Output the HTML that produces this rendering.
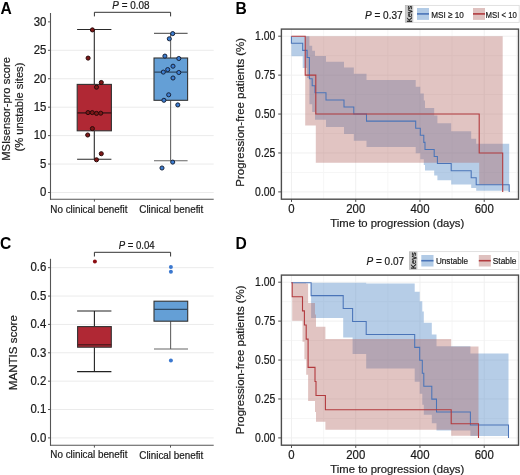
<!DOCTYPE html>
<html><head><meta charset="utf-8"><style>html,body{margin:0;padding:0;background:#fff;width:520px;height:475px;overflow:hidden}</style></head>
<body>
<svg width="520" height="475" viewBox="0 0 520 475" style="font-family:'Liberation Sans',sans-serif;display:block;will-change:transform">
<rect width="520" height="475" fill="#fff"/>
<line x1="51" y1="192.50" x2="213.7" y2="192.50" stroke="#ebebeb" stroke-width="1"/>
<line x1="51" y1="164.06" x2="213.7" y2="164.06" stroke="#ebebeb" stroke-width="1"/>
<line x1="51" y1="135.62" x2="213.7" y2="135.62" stroke="#ebebeb" stroke-width="1"/>
<line x1="51" y1="107.18" x2="213.7" y2="107.18" stroke="#ebebeb" stroke-width="1"/>
<line x1="51" y1="78.74" x2="213.7" y2="78.74" stroke="#ebebeb" stroke-width="1"/>
<line x1="51" y1="50.30" x2="213.7" y2="50.30" stroke="#ebebeb" stroke-width="1"/>
<line x1="50.5" y1="13" x2="50.5" y2="199.7" stroke="#555555" stroke-width="1.1"/>
<line x1="50" y1="199.2" x2="213.7" y2="199.2" stroke="#555555" stroke-width="1.1"/>
<line x1="48" y1="192.50" x2="50.5" y2="192.50" stroke="#555555" stroke-width="1"/>
<text transform="translate(46.30,196.30) scale(1.0,1.07)" font-size="11.4" text-anchor="end" fill="#1a1a1a" stroke="#1a1a1a" stroke-width="0.2">0</text>
<line x1="48" y1="164.06" x2="50.5" y2="164.06" stroke="#555555" stroke-width="1"/>
<text transform="translate(46.30,167.86) scale(1.0,1.07)" font-size="11.4" text-anchor="end" fill="#1a1a1a" stroke="#1a1a1a" stroke-width="0.2">5</text>
<line x1="48" y1="135.62" x2="50.5" y2="135.62" stroke="#555555" stroke-width="1"/>
<text transform="translate(46.30,139.42) scale(1.0,1.07)" font-size="11.4" text-anchor="end" fill="#1a1a1a" stroke="#1a1a1a" stroke-width="0.2">10</text>
<line x1="48" y1="107.18" x2="50.5" y2="107.18" stroke="#555555" stroke-width="1"/>
<text transform="translate(46.30,110.98) scale(1.0,1.07)" font-size="11.4" text-anchor="end" fill="#1a1a1a" stroke="#1a1a1a" stroke-width="0.2">15</text>
<line x1="48" y1="78.74" x2="50.5" y2="78.74" stroke="#555555" stroke-width="1"/>
<text transform="translate(46.30,82.54) scale(1.0,1.07)" font-size="11.4" text-anchor="end" fill="#1a1a1a" stroke="#1a1a1a" stroke-width="0.2">20</text>
<line x1="48" y1="50.30" x2="50.5" y2="50.30" stroke="#555555" stroke-width="1"/>
<text transform="translate(46.30,54.10) scale(1.0,1.07)" font-size="11.4" text-anchor="end" fill="#1a1a1a" stroke="#1a1a1a" stroke-width="0.2">25</text>
<line x1="48" y1="21.86" x2="50.5" y2="21.86" stroke="#555555" stroke-width="1"/>
<text transform="translate(46.30,25.66) scale(1.0,1.07)" font-size="11.4" text-anchor="end" fill="#1a1a1a" stroke="#1a1a1a" stroke-width="0.2">30</text>
<line x1="94.4" y1="199.2" x2="94.4" y2="201.6" stroke="#555555" stroke-width="1"/>
<line x1="170.5" y1="199.2" x2="170.5" y2="201.6" stroke="#555555" stroke-width="1"/>
<text transform="translate(88.90,212.70) scale(1.0,1.07)" font-size="9.85" text-anchor="middle" fill="#1a1a1a" stroke="#1a1a1a" stroke-width="0.2">No clinical benefit</text>
<text transform="translate(171.30,213.30) scale(1.0,1.07)" font-size="9.85" text-anchor="middle" fill="#1a1a1a" stroke="#1a1a1a" stroke-width="0.2">Clinical benefit</text>
<text transform="translate(10.20,108.90) rotate(-90) scale(1.0,1.04)" font-size="11.2" text-anchor="middle" fill="#1a1a1a" stroke="#1a1a1a" stroke-width="0.2">MSIsensor-pro score</text>
<text transform="translate(22.90,107.00) rotate(-90) scale(1.0,1.04)" font-size="11.2" text-anchor="middle" fill="#1a1a1a" stroke="#1a1a1a" stroke-width="0.2">(% unstable sites)</text>
<text transform="translate(0.40,13.50) scale(0.92,1)" font-size="17" font-weight="bold" fill="#000">A</text>
<path d="M94.4,16.4V12.3H170.6V16.4" fill="none" stroke="#333" stroke-width="1"/>
<text transform="translate(130.90,8.60) scale(1.0,1.07)" font-size="9.9" text-anchor="middle" fill="#1a1a1a" stroke="#1a1a1a" stroke-width="0.2"><tspan font-style="italic">P</tspan> = 0.08</text>
<path d="M94.3,29.5V84.4M94.3,130.8V159.3M77.1,29.5H111.4M77.1,159.3H111.4" stroke="#2a2a2a" stroke-width="1.1" fill="none"/>
<rect x="77.2" y="84.4" width="34.2" height="46.4" fill="#b02834" stroke="#333" stroke-width="1.1"/>
<line x1="77.2" y1="112.9" x2="111.4" y2="112.9" stroke="#55181d" stroke-width="1.7"/>
<path d="M170.6,33.4V58M170.6,100.3V160.8M154,33.4H187.6M154,160.8H187.6" stroke="#666" stroke-width="1.1" fill="none"/>
<rect x="154" y="58" width="33.6" height="42.3" fill="#649fd6" stroke="#333" stroke-width="1.1"/>
<line x1="154" y1="72.1" x2="187.6" y2="72.1" stroke="#2e4a66" stroke-width="1.4"/>
<circle cx="92.4" cy="29.9" r="2.05" fill="#7e1717" stroke="#2a0a0a" stroke-width="1"/>
<circle cx="88.1" cy="58.1" r="2.05" fill="#7e1717" stroke="#2a0a0a" stroke-width="1"/>
<circle cx="101.3" cy="82.5" r="2.05" fill="#7e1717" stroke="#2a0a0a" stroke-width="1"/>
<circle cx="96.5" cy="87.2" r="2.05" fill="#7e1717" stroke="#2a0a0a" stroke-width="1"/>
<circle cx="88" cy="112.6" r="2.05" fill="#7e1717" stroke="#2a0a0a" stroke-width="1"/>
<circle cx="92.25" cy="112.6" r="2.05" fill="#7e1717" stroke="#2a0a0a" stroke-width="1"/>
<circle cx="96.5" cy="113.4" r="2.05" fill="#7e1717" stroke="#2a0a0a" stroke-width="1"/>
<circle cx="100.75" cy="113.2" r="2.05" fill="#7e1717" stroke="#2a0a0a" stroke-width="1"/>
<circle cx="92.4" cy="128.6" r="2.05" fill="#7e1717" stroke="#2a0a0a" stroke-width="1"/>
<circle cx="87.7" cy="135" r="2.05" fill="#7e1717" stroke="#2a0a0a" stroke-width="1"/>
<circle cx="101.3" cy="153.7" r="2.05" fill="#7e1717" stroke="#2a0a0a" stroke-width="1"/>
<circle cx="96.5" cy="159.8" r="2.05" fill="#7e1717" stroke="#2a0a0a" stroke-width="1"/>
<circle cx="172.7" cy="33.6" r="2.05" fill="#3d7ed3" stroke="#17233a" stroke-width="1"/>
<circle cx="169.3" cy="38.8" r="2.05" fill="#3d7ed3" stroke="#17233a" stroke-width="1"/>
<circle cx="164.9" cy="56.1" r="2.05" fill="#3d7ed3" stroke="#17233a" stroke-width="1"/>
<circle cx="178.8" cy="58.5" r="2.05" fill="#3d7ed3" stroke="#17233a" stroke-width="1"/>
<circle cx="173" cy="66.2" r="2.05" fill="#3d7ed3" stroke="#17233a" stroke-width="1"/>
<circle cx="167.7" cy="69.6" r="2.05" fill="#3d7ed3" stroke="#17233a" stroke-width="1"/>
<circle cx="163.3" cy="72.1" r="2.05" fill="#3d7ed3" stroke="#17233a" stroke-width="1"/>
<circle cx="178.8" cy="72.5" r="2.05" fill="#3d7ed3" stroke="#17233a" stroke-width="1"/>
<circle cx="173" cy="78" r="2.05" fill="#3d7ed3" stroke="#17233a" stroke-width="1"/>
<circle cx="168.7" cy="94.8" r="2.05" fill="#3d7ed3" stroke="#17233a" stroke-width="1"/>
<circle cx="163.9" cy="100.3" r="2.05" fill="#3d7ed3" stroke="#17233a" stroke-width="1"/>
<circle cx="177.8" cy="104.9" r="2.05" fill="#3d7ed3" stroke="#17233a" stroke-width="1"/>
<circle cx="172.7" cy="162.1" r="2.05" fill="#3d7ed3" stroke="#17233a" stroke-width="1"/>
<circle cx="162" cy="168" r="2.05" fill="#3d7ed3" stroke="#17233a" stroke-width="1"/>
<line x1="51" y1="437.90" x2="213.7" y2="437.90" stroke="#ebebeb" stroke-width="1"/>
<line x1="51" y1="409.53" x2="213.7" y2="409.53" stroke="#ebebeb" stroke-width="1"/>
<line x1="51" y1="381.16" x2="213.7" y2="381.16" stroke="#ebebeb" stroke-width="1"/>
<line x1="51" y1="352.79" x2="213.7" y2="352.79" stroke="#ebebeb" stroke-width="1"/>
<line x1="51" y1="324.42" x2="213.7" y2="324.42" stroke="#ebebeb" stroke-width="1"/>
<line x1="51" y1="296.05" x2="213.7" y2="296.05" stroke="#ebebeb" stroke-width="1"/>
<line x1="51" y1="267.68" x2="213.7" y2="267.68" stroke="#ebebeb" stroke-width="1"/>
<line x1="50.5" y1="258.8" x2="50.5" y2="445.7" stroke="#555555" stroke-width="1.1"/>
<line x1="50" y1="445.2" x2="213.7" y2="445.2" stroke="#555555" stroke-width="1.1"/>
<line x1="48" y1="437.90" x2="50.5" y2="437.90" stroke="#555555" stroke-width="1"/>
<text transform="translate(46.30,441.70) scale(1.0,1.07)" font-size="11.4" text-anchor="end" fill="#1a1a1a" stroke="#1a1a1a" stroke-width="0.2">0.0</text>
<line x1="48" y1="409.53" x2="50.5" y2="409.53" stroke="#555555" stroke-width="1"/>
<text transform="translate(46.30,413.33) scale(1.0,1.07)" font-size="11.4" text-anchor="end" fill="#1a1a1a" stroke="#1a1a1a" stroke-width="0.2">0.1</text>
<line x1="48" y1="381.16" x2="50.5" y2="381.16" stroke="#555555" stroke-width="1"/>
<text transform="translate(46.30,384.96) scale(1.0,1.07)" font-size="11.4" text-anchor="end" fill="#1a1a1a" stroke="#1a1a1a" stroke-width="0.2">0.2</text>
<line x1="48" y1="352.79" x2="50.5" y2="352.79" stroke="#555555" stroke-width="1"/>
<text transform="translate(46.30,356.59) scale(1.0,1.07)" font-size="11.4" text-anchor="end" fill="#1a1a1a" stroke="#1a1a1a" stroke-width="0.2">0.3</text>
<line x1="48" y1="324.42" x2="50.5" y2="324.42" stroke="#555555" stroke-width="1"/>
<text transform="translate(46.30,328.22) scale(1.0,1.07)" font-size="11.4" text-anchor="end" fill="#1a1a1a" stroke="#1a1a1a" stroke-width="0.2">0.4</text>
<line x1="48" y1="296.05" x2="50.5" y2="296.05" stroke="#555555" stroke-width="1"/>
<text transform="translate(46.30,299.85) scale(1.0,1.07)" font-size="11.4" text-anchor="end" fill="#1a1a1a" stroke="#1a1a1a" stroke-width="0.2">0.5</text>
<line x1="48" y1="267.68" x2="50.5" y2="267.68" stroke="#555555" stroke-width="1"/>
<text transform="translate(46.30,271.48) scale(1.0,1.07)" font-size="11.4" text-anchor="end" fill="#1a1a1a" stroke="#1a1a1a" stroke-width="0.2">0.6</text>
<line x1="94.4" y1="445.2" x2="94.4" y2="447.6" stroke="#555555" stroke-width="1"/>
<line x1="170.5" y1="445.2" x2="170.5" y2="447.6" stroke="#555555" stroke-width="1"/>
<text transform="translate(88.90,457.90) scale(1.0,1.07)" font-size="9.85" text-anchor="middle" fill="#1a1a1a" stroke="#1a1a1a" stroke-width="0.2">No clinical benefit</text>
<text transform="translate(171.30,458.50) scale(1.0,1.07)" font-size="9.85" text-anchor="middle" fill="#1a1a1a" stroke="#1a1a1a" stroke-width="0.2">Clinical benefit</text>
<text transform="translate(17.10,352.65) rotate(-90) scale(1.0,1.02)" font-size="11.55" text-anchor="middle" fill="#1a1a1a" stroke="#1a1a1a" stroke-width="0.2">MANTIS score</text>
<text transform="translate(0.10,249.20) scale(0.92,1)" font-size="17" font-weight="bold" fill="#000">C</text>
<path d="M94.4,256.5V252.3H170.6V256.5" fill="none" stroke="#333" stroke-width="1"/>
<text transform="translate(136.70,248.50) scale(1.0,1.07)" font-size="9.6" text-anchor="middle" fill="#1a1a1a" stroke="#1a1a1a" stroke-width="0.2"><tspan font-style="italic">P</tspan> = 0.04</text>
<path d="M94.4,311V326.6M94.4,347.2V371.6M77.1,311H111.4M77.1,371.6H111.4" stroke="#222" stroke-width="1.1" fill="none"/>
<rect x="77.6" y="326.6" width="33.7" height="20.6" fill="#b02834" stroke="#333" stroke-width="1.1"/>
<line x1="77.6" y1="344.7" x2="111.3" y2="344.7" stroke="#5a1a1f" stroke-width="1.4"/>
<path d="M170.6,321.2V349M154,349H188" stroke="#666" stroke-width="1.1" fill="none"/>
<rect x="154" y="301.2" width="33.7" height="20" fill="#649fd6" stroke="#333" stroke-width="1.1"/>
<line x1="154" y1="309.4" x2="187.7" y2="309.4" stroke="#2e4a66" stroke-width="1.4"/>
<circle cx="94.9" cy="261.6" r="2" fill="#8b0d12"/>
<circle cx="170.9" cy="267" r="2" fill="#3b78cf"/>
<circle cx="170.9" cy="271.7" r="2" fill="#3b78cf"/>
<circle cx="170.9" cy="360.5" r="2" fill="#3b78cf"/>
<line x1="282" y1="172.44" x2="518" y2="172.44" stroke="#f6f6f6" stroke-width="1"/>
<line x1="282" y1="133.51" x2="518" y2="133.51" stroke="#f6f6f6" stroke-width="1"/>
<line x1="282" y1="94.59" x2="518" y2="94.59" stroke="#f6f6f6" stroke-width="1"/>
<line x1="282" y1="55.66" x2="518" y2="55.66" stroke="#f6f6f6" stroke-width="1"/>
<line x1="323.62" y1="29.1" x2="323.62" y2="199.2" stroke="#f6f6f6" stroke-width="1"/>
<line x1="387.86" y1="29.1" x2="387.86" y2="199.2" stroke="#f6f6f6" stroke-width="1"/>
<line x1="452.10" y1="29.1" x2="452.10" y2="199.2" stroke="#f6f6f6" stroke-width="1"/>
<line x1="516.34" y1="29.1" x2="516.34" y2="199.2" stroke="#f6f6f6" stroke-width="1"/>
<line x1="282" y1="191.90" x2="518" y2="191.90" stroke="#f0f0f0" stroke-width="1"/>
<line x1="282" y1="152.98" x2="518" y2="152.98" stroke="#f0f0f0" stroke-width="1"/>
<line x1="282" y1="114.05" x2="518" y2="114.05" stroke="#f0f0f0" stroke-width="1"/>
<line x1="282" y1="75.13" x2="518" y2="75.13" stroke="#f0f0f0" stroke-width="1"/>
<line x1="282" y1="36.20" x2="518" y2="36.20" stroke="#f0f0f0" stroke-width="1"/>
<line x1="291.50" y1="29.1" x2="291.50" y2="199.2" stroke="#f0f0f0" stroke-width="1"/>
<line x1="355.74" y1="29.1" x2="355.74" y2="199.2" stroke="#f0f0f0" stroke-width="1"/>
<line x1="419.98" y1="29.1" x2="419.98" y2="199.2" stroke="#f0f0f0" stroke-width="1"/>
<line x1="484.22" y1="29.1" x2="484.22" y2="199.2" stroke="#f0f0f0" stroke-width="1"/>
<path d="M291.4,36.20H302.7V56.23H291.4ZM302.7,36.20H307.1V67.88H302.7ZM307.1,36.20H309.4V78.00H307.1ZM309.4,45.64H312.2V104.23H309.4ZM312.2,50.67H315V112.10H312.2ZM315,56.01H326V119.65H315ZM326,61.64H344V126.92H326ZM344,67.53H353.8V133.91H344ZM353.8,73.67H366.5V140.64H353.8ZM366.5,80.04H415.7V147.12H366.5ZM415.7,86.65H420.3V153.35H415.7ZM420.3,93.49H423.8V159.33H420.3ZM423.8,100.57H425V165.03H423.8ZM425,107.88H434.2V170.44H425ZM434.2,115.43H437.4V175.52H434.2ZM437.4,123.21H451.2V180.23H437.4ZM451.2,131.13H471.2V184.48H451.2ZM471.2,138.84H476.2V188.12H471.2ZM476.2,143.87H509.2V190.86H476.2Z" fill="#558cc8" fill-opacity="0.43"/>
<path d="M305.2,36.20H315.8V125.58H305.2ZM315.8,36.20H479.2V162.68H315.8ZM479.2,36.20H502.7V184.77H479.2Z" fill="#b0645f" fill-opacity="0.38"/>
<path d="M291.4,36.20 H291.4 V43.28 H302.7 V50.35 H307.1 V57.43 H309.4 V78.66 H312.2 V85.74 H315 V92.82 H326 V99.90 H344 V106.97 H353.8 V114.05 H366.5 V121.13 H415.7 V128.20 H420.3 V135.28 H423.8 V142.36 H425 V149.44 H434.2 V156.51 H437.4 V163.59 H451.2 V170.67 H471.2 V177.75 H476.2 V184.82 H509.2 V191.90" fill="none" stroke="#4a74b8" stroke-width="1.05"/>
<path d="M291.4,36.20 H305.2 V75.13 H315.8 V114.05 H479.2 V152.98 H502.7 V191.90" fill="none" stroke="#b23a3e" stroke-width="1.1"/>
<rect x="281.4" y="29.1" width="237.1" height="170.1" fill="none" stroke="#4d4d4d" stroke-width="1.4"/>
<line x1="278.2" y1="191.90" x2="281" y2="191.90" stroke="#4d4d4d" stroke-width="1"/>
<text transform="translate(275.30,195.80) scale(1.0,1.07)" font-size="11.1" text-anchor="end" textLength="20.2" lengthAdjust="spacingAndGlyphs" fill="#1a1a1a" stroke="#1a1a1a" stroke-width="0.2">0.00</text>
<line x1="278.2" y1="152.98" x2="281" y2="152.98" stroke="#4d4d4d" stroke-width="1"/>
<text transform="translate(275.30,156.88) scale(1.0,1.07)" font-size="11.1" text-anchor="end" textLength="20.2" lengthAdjust="spacingAndGlyphs" fill="#1a1a1a" stroke="#1a1a1a" stroke-width="0.2">0.25</text>
<line x1="278.2" y1="114.05" x2="281" y2="114.05" stroke="#4d4d4d" stroke-width="1"/>
<text transform="translate(275.30,117.95) scale(1.0,1.07)" font-size="11.1" text-anchor="end" textLength="20.2" lengthAdjust="spacingAndGlyphs" fill="#1a1a1a" stroke="#1a1a1a" stroke-width="0.2">0.50</text>
<line x1="278.2" y1="75.13" x2="281" y2="75.13" stroke="#4d4d4d" stroke-width="1"/>
<text transform="translate(275.30,79.03) scale(1.0,1.07)" font-size="11.1" text-anchor="end" textLength="20.2" lengthAdjust="spacingAndGlyphs" fill="#1a1a1a" stroke="#1a1a1a" stroke-width="0.2">0.75</text>
<line x1="278.2" y1="36.20" x2="281" y2="36.20" stroke="#4d4d4d" stroke-width="1"/>
<text transform="translate(275.30,40.10) scale(1.0,1.07)" font-size="11.1" text-anchor="end" textLength="20.2" lengthAdjust="spacingAndGlyphs" fill="#1a1a1a" stroke="#1a1a1a" stroke-width="0.2">1.00</text>
<line x1="291.50" y1="199.2" x2="291.50" y2="201.9" stroke="#4d4d4d" stroke-width="1"/>
<text transform="translate(291.50,212.70) scale(1.0,1.07)" font-size="11.4" text-anchor="middle" fill="#1a1a1a" stroke="#1a1a1a" stroke-width="0.2">0</text>
<line x1="355.74" y1="199.2" x2="355.74" y2="201.9" stroke="#4d4d4d" stroke-width="1"/>
<text transform="translate(355.74,212.70) scale(1.0,1.07)" font-size="11.4" text-anchor="middle" fill="#1a1a1a" stroke="#1a1a1a" stroke-width="0.2">200</text>
<line x1="419.98" y1="199.2" x2="419.98" y2="201.9" stroke="#4d4d4d" stroke-width="1"/>
<text transform="translate(419.98,212.70) scale(1.0,1.07)" font-size="11.4" text-anchor="middle" fill="#1a1a1a" stroke="#1a1a1a" stroke-width="0.2">400</text>
<line x1="484.22" y1="199.2" x2="484.22" y2="201.9" stroke="#4d4d4d" stroke-width="1"/>
<text transform="translate(484.22,212.70) scale(1.0,1.07)" font-size="11.4" text-anchor="middle" fill="#1a1a1a" stroke="#1a1a1a" stroke-width="0.2">600</text>
<text transform="translate(397.30,226.70) scale(1.0,1.02)" font-size="11.3" text-anchor="middle" fill="#1a1a1a" stroke="#1a1a1a" stroke-width="0.2">Time to progression (days)</text>
<text transform="translate(244.20,112.30) rotate(-90) scale(1.0,1.02)" font-size="11.45" text-anchor="middle" fill="#1a1a1a" stroke="#1a1a1a" stroke-width="0.2">Progression-free patients (%)</text>
<text transform="translate(235.40,13.80) scale(0.92,1)" font-size="17" font-weight="bold" fill="#000">B</text>
<text transform="translate(365.00,18.60)" font-size="10" fill="#1a1a1a" stroke="#1a1a1a" stroke-width="0.2"><tspan font-style="italic">P</tspan> = 0.37</text>
<rect x="405.2" y="5.3" width="7.6" height="17.2" fill="#c9c9c9" stroke="#aaa" stroke-width="0.5"/>
<text transform="translate(411.60,14.00) rotate(-90) scale(1.0,1.07)" font-size="7.5" text-anchor="middle" fill="#111" stroke="#111" stroke-width="0.2">Keys</text>
<rect x="413" y="5.4" width="106.2" height="17" fill="#fff" stroke="#ddd" stroke-width="0.9"/>
<rect x="417" y="8" width="12" height="11.9" fill="#558cc8" fill-opacity="0.45"/>
<line x1="417" y1="13.9" x2="429" y2="13.9" stroke="#4a74b8" stroke-width="1.6"/>
<text transform="translate(431.20,17.60) scale(1.0,1.07)" font-size="9" textLength="32.6" lengthAdjust="spacingAndGlyphs" fill="#1a1a1a" stroke="#1a1a1a" stroke-width="0.2">MSI ≥ 10</text>
<rect x="473" y="8" width="12" height="11.9" fill="#b0645f" fill-opacity="0.4"/>
<line x1="473" y1="13.9" x2="485" y2="13.9" stroke="#b23a3e" stroke-width="1.6"/>
<text transform="translate(485.50,17.60) scale(1.0,1.07)" font-size="9" textLength="31.3" lengthAdjust="spacingAndGlyphs" fill="#1a1a1a" stroke="#1a1a1a" stroke-width="0.2">MSI &lt; 10</text>
<line x1="282" y1="418.44" x2="518" y2="418.44" stroke="#f6f6f6" stroke-width="1"/>
<line x1="282" y1="379.51" x2="518" y2="379.51" stroke="#f6f6f6" stroke-width="1"/>
<line x1="282" y1="340.59" x2="518" y2="340.59" stroke="#f6f6f6" stroke-width="1"/>
<line x1="282" y1="301.66" x2="518" y2="301.66" stroke="#f6f6f6" stroke-width="1"/>
<line x1="323.62" y1="275.1" x2="323.62" y2="445.2" stroke="#f6f6f6" stroke-width="1"/>
<line x1="387.86" y1="275.1" x2="387.86" y2="445.2" stroke="#f6f6f6" stroke-width="1"/>
<line x1="452.10" y1="275.1" x2="452.10" y2="445.2" stroke="#f6f6f6" stroke-width="1"/>
<line x1="516.34" y1="275.1" x2="516.34" y2="445.2" stroke="#f6f6f6" stroke-width="1"/>
<line x1="282" y1="437.90" x2="518" y2="437.90" stroke="#f0f0f0" stroke-width="1"/>
<line x1="282" y1="398.97" x2="518" y2="398.97" stroke="#f0f0f0" stroke-width="1"/>
<line x1="282" y1="360.05" x2="518" y2="360.05" stroke="#f0f0f0" stroke-width="1"/>
<line x1="282" y1="321.12" x2="518" y2="321.12" stroke="#f0f0f0" stroke-width="1"/>
<line x1="282" y1="282.20" x2="518" y2="282.20" stroke="#f0f0f0" stroke-width="1"/>
<line x1="291.50" y1="275.1" x2="291.50" y2="445.2" stroke="#f0f0f0" stroke-width="1"/>
<line x1="355.74" y1="275.1" x2="355.74" y2="445.2" stroke="#f0f0f0" stroke-width="1"/>
<line x1="419.98" y1="275.1" x2="419.98" y2="445.2" stroke="#f0f0f0" stroke-width="1"/>
<line x1="484.22" y1="275.1" x2="484.22" y2="445.2" stroke="#f0f0f0" stroke-width="1"/>
<path d="M311.1,282.70H343.2V317.95H311.1ZM343.2,282.70H352.6V337.48H343.2ZM352.6,282.70H366.2V353.94H352.6ZM366.2,283.53H414.7V368.55H366.2ZM414.7,291.86H419.7V381.78H414.7ZM419.7,301.26H422.3V393.83H419.7ZM422.3,311.59H423.8V404.79H422.3ZM423.8,322.75H431.8V414.66H423.8ZM431.8,334.52H436.5V423.34H431.8ZM436.5,346.24H470.4V430.60H436.5ZM470.4,353.43H508.5V435.92H470.4Z" fill="#558cc8" fill-opacity="0.43"/>
<path d="M292.2,282.70H302.5V320.86H292.2ZM302.5,282.70H304.4V341.79H302.5ZM304.4,282.70H306.2V359.30H304.4ZM306.2,283.51H308.1V374.72H306.2ZM308.1,303.12H315V400.97H308.1ZM315,314.57H316V412.07H315ZM316,326.80H325.4V421.77H316ZM325.4,339.05H451.2V429.84H325.4ZM451.2,346.47H478.5V435.72H451.2Z" fill="#b0645f" fill-opacity="0.38"/>
<path d="M291.4,282.70 H311.1 V295.63 H343.2 V308.57 H352.6 V321.50 H366.2 V334.43 H414.7 V347.37 H419.7 V360.30 H422.3 V373.23 H423.8 V386.17 H431.8 V399.10 H436.5 V412.03 H470.4 V424.97 H508.5 V437.90" fill="none" stroke="#4a74b8" stroke-width="1.05"/>
<path d="M291.4,282.70 H292.2 V296.81 H302.5 V310.92 H304.4 V325.03 H306.2 V339.14 H308.1 V367.35 H315 V381.46 H316 V395.57 H325.4 V409.68 H451.2 V423.79 H478.5 V437.90" fill="none" stroke="#b23a3e" stroke-width="1.1"/>
<rect x="281.4" y="275.1" width="237.1" height="170.1" fill="none" stroke="#4d4d4d" stroke-width="1.4"/>
<line x1="278.2" y1="437.90" x2="281" y2="437.90" stroke="#4d4d4d" stroke-width="1"/>
<text transform="translate(275.30,441.80) scale(1.0,1.07)" font-size="11.1" text-anchor="end" textLength="20.2" lengthAdjust="spacingAndGlyphs" fill="#1a1a1a" stroke="#1a1a1a" stroke-width="0.2">0.00</text>
<line x1="278.2" y1="398.97" x2="281" y2="398.97" stroke="#4d4d4d" stroke-width="1"/>
<text transform="translate(275.30,402.87) scale(1.0,1.07)" font-size="11.1" text-anchor="end" textLength="20.2" lengthAdjust="spacingAndGlyphs" fill="#1a1a1a" stroke="#1a1a1a" stroke-width="0.2">0.25</text>
<line x1="278.2" y1="360.05" x2="281" y2="360.05" stroke="#4d4d4d" stroke-width="1"/>
<text transform="translate(275.30,363.95) scale(1.0,1.07)" font-size="11.1" text-anchor="end" textLength="20.2" lengthAdjust="spacingAndGlyphs" fill="#1a1a1a" stroke="#1a1a1a" stroke-width="0.2">0.50</text>
<line x1="278.2" y1="321.12" x2="281" y2="321.12" stroke="#4d4d4d" stroke-width="1"/>
<text transform="translate(275.30,325.02) scale(1.0,1.07)" font-size="11.1" text-anchor="end" textLength="20.2" lengthAdjust="spacingAndGlyphs" fill="#1a1a1a" stroke="#1a1a1a" stroke-width="0.2">0.75</text>
<line x1="278.2" y1="282.20" x2="281" y2="282.20" stroke="#4d4d4d" stroke-width="1"/>
<text transform="translate(275.30,286.10) scale(1.0,1.07)" font-size="11.1" text-anchor="end" textLength="20.2" lengthAdjust="spacingAndGlyphs" fill="#1a1a1a" stroke="#1a1a1a" stroke-width="0.2">1.00</text>
<line x1="291.50" y1="445.2" x2="291.50" y2="447.9" stroke="#4d4d4d" stroke-width="1"/>
<text transform="translate(291.50,458.70) scale(1.0,1.07)" font-size="11.4" text-anchor="middle" fill="#1a1a1a" stroke="#1a1a1a" stroke-width="0.2">0</text>
<line x1="355.74" y1="445.2" x2="355.74" y2="447.9" stroke="#4d4d4d" stroke-width="1"/>
<text transform="translate(355.74,458.70) scale(1.0,1.07)" font-size="11.4" text-anchor="middle" fill="#1a1a1a" stroke="#1a1a1a" stroke-width="0.2">200</text>
<line x1="419.98" y1="445.2" x2="419.98" y2="447.9" stroke="#4d4d4d" stroke-width="1"/>
<text transform="translate(419.98,458.70) scale(1.0,1.07)" font-size="11.4" text-anchor="middle" fill="#1a1a1a" stroke="#1a1a1a" stroke-width="0.2">400</text>
<line x1="484.22" y1="445.2" x2="484.22" y2="447.9" stroke="#4d4d4d" stroke-width="1"/>
<text transform="translate(484.22,458.70) scale(1.0,1.07)" font-size="11.4" text-anchor="middle" fill="#1a1a1a" stroke="#1a1a1a" stroke-width="0.2">600</text>
<text transform="translate(397.30,472.70) scale(1.0,1.02)" font-size="11.3" text-anchor="middle" fill="#1a1a1a" stroke="#1a1a1a" stroke-width="0.2">Time to progression (days)</text>
<text transform="translate(244.20,359.80) rotate(-90) scale(1.0,1.02)" font-size="11.45" text-anchor="middle" fill="#1a1a1a" stroke="#1a1a1a" stroke-width="0.2">Progression-free patients (%)</text>
<text transform="translate(235.40,249.20) scale(0.92,1)" font-size="17" font-weight="bold" fill="#000">D</text>
<text transform="translate(366.50,265.00)" font-size="10" fill="#1a1a1a" stroke="#1a1a1a" stroke-width="0.2"><tspan font-style="italic">P</tspan> = 0.07</text>
<rect x="409.4" y="251.8" width="7.6" height="17.6" fill="#c9c9c9" stroke="#aaa" stroke-width="0.5"/>
<text transform="translate(415.80,260.60) rotate(-90) scale(1.0,1.07)" font-size="7.5" text-anchor="middle" fill="#111" stroke="#111" stroke-width="0.2">Keys</text>
<rect x="417.2" y="251.6" width="101.6" height="17.9" fill="#fff" stroke="#ddd" stroke-width="0.9"/>
<rect x="421.3" y="255" width="12.2" height="11.5" fill="#558cc8" fill-opacity="0.45"/>
<line x1="421.3" y1="260.7" x2="433.5" y2="260.7" stroke="#4a74b8" stroke-width="1.6"/>
<text transform="translate(436.00,264.20) scale(1.0,1.07)" font-size="8.9" textLength="32" lengthAdjust="spacingAndGlyphs" fill="#1a1a1a" stroke="#1a1a1a" stroke-width="0.2">Unstable</text>
<rect x="478.8" y="255" width="12" height="11.5" fill="#b0645f" fill-opacity="0.4"/>
<line x1="478.8" y1="260.7" x2="490.8" y2="260.7" stroke="#b23a3e" stroke-width="1.6"/>
<text transform="translate(492.80,264.20) scale(1.0,1.07)" font-size="8.9" textLength="23.6" lengthAdjust="spacingAndGlyphs" fill="#1a1a1a" stroke="#1a1a1a" stroke-width="0.2">Stable</text>
</svg>
</body></html>
